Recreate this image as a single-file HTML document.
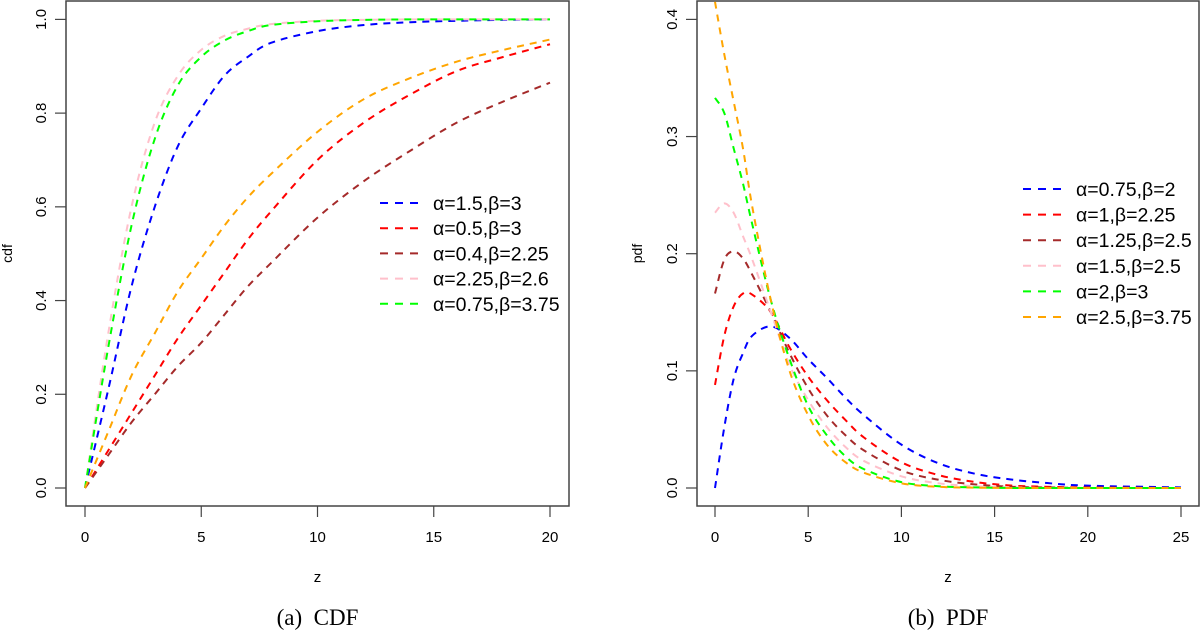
<!DOCTYPE html>
<html><head><meta charset="utf-8"><style>
body{margin:0;background:#fff;width:1200px;height:632px;overflow:hidden}
svg{display:block}
text{font-family:"Liberation Sans",Arial,sans-serif;fill:#000}
.cap{font-family:"Liberation Serif","DejaVu Serif",serif;font-size:23px;white-space:pre}
</style></head><body>
<svg id="s" width="1200" height="632"></svg>
<script>
// ---- CDF panel data ----
const cdfX=[0,1,2,3,4,5,6,7,8,10,12,14,16,18,20];
const cdfBlue=[0,0.21,0.43,0.6,0.73,0.81,0.88,0.92,0.95,0.975,0.988,0.994,0.997,0.999,1];
const cdfRed=[0,0.08,0.16,0.24,0.32,0.39,0.46,0.53,0.59,0.70,0.78,0.84,0.89,0.92,0.947];
const cdfBrown=[0,0.07,0.14,0.2,0.26,0.31,0.37,0.43,0.48,0.577,0.655,0.72,0.78,0.825,0.865];
const cdfPink=[0,0.33,0.6,0.78,0.88,0.935,0.965,0.98,0.99,0.997,0.999,1,1,1,1];
const cdfGreen=[0,0.3,0.56,0.745,0.86,0.92,0.955,0.975,0.988,0.996,0.999,1,1,1,1];
const cdfOrange=[0,0.12,0.24,0.33,0.42,0.49,0.56,0.62,0.67,0.76,0.83,0.875,0.91,0.935,0.957];
const cdfLabels=["α=1.5,β=3","α=0.5,β=3","α=0.4,β=2.25","α=2.25,β=2.6","α=0.75,β=3.75"];
const cdfXTicks=[0,5,10,15,20];
const cdfYTicks=[0,0.2,0.4,0.6,0.8,1.0];
// ---- PDF panel data ----
const pdfX=[0,0.5,1,1.5,2,3,4,5,6,7,8,10,12,14,16,18,20,25];
const pdfBlue=[0,0.052,0.093,0.115,0.13,0.138,0.128,0.11,0.094,0.077,0.062,0.037,0.021,0.012,0.007,0.004,0.002,0.0005];
const pdfRed=[0.088,0.13,0.155,0.166,0.165,0.15,0.12,0.095,0.075,0.058,0.043,0.022,0.011,0.005,0.002,0.001,0.0004,0];
const pdfBrown=[0.166,0.195,0.202,0.196,0.182,0.15,0.115,0.085,0.062,0.045,0.032,0.015,0.007,0.003,0.001,0.0005,0,0];
const pdfPink=[0.235,0.243,0.235,0.215,0.195,0.15,0.105,0.075,0.052,0.035,0.023,0.01,0.004,0.0015,0.0005,0,0,0];
const pdfGreen=[0.333,0.32,0.29,0.26,0.225,0.16,0.11,0.07,0.045,0.027,0.016,0.005,0.0015,0.0005,0,0,0,0];
const pdfOrange=[0.415,0.37,0.33,0.29,0.24,0.16,0.1,0.062,0.037,0.022,0.013,0.004,0.001,0.0003,0,0,0,0];
const pdfLabels=["α=0.75,β=2","α=1,β=2.25","α=1.25,β=2.5","α=1.5,β=2.5","α=2,β=3","α=2.5,β=3.75"];
const pdfXTicks=[0,5,10,15,20,25];
const pdfYTicks=[0,0.1,0.2,0.3,0.4];

const NS="http://www.w3.org/2000/svg";
const svg=document.getElementById('s');
function mk(tag,attrs,parent){const e=document.createElementNS(NS,tag);for(const k in attrs)e.setAttribute(k,attrs[k]);(parent||svg).appendChild(e);return e;}
function smooth(pts){let d="M"+pts[0][0].toFixed(2)+","+pts[0][1].toFixed(2);
 for(let i=0;i<pts.length-1;i++){const p0=pts[Math.max(0,i-1)],p1=pts[i],p2=pts[i+1],p3=pts[Math.min(pts.length-1,i+2)];
  const c1=[p1[0]+(p2[0]-p0[0])/6,p1[1]+(p2[1]-p0[1])/6],c2=[p2[0]-(p3[0]-p1[0])/6,p2[1]-(p3[1]-p1[1])/6];
  d+="C"+c1[0].toFixed(2)+","+c1[1].toFixed(2)+" "+c2[0].toFixed(2)+","+c2[1].toFixed(2)+" "+p2[0].toFixed(2)+","+p2[1].toFixed(2);}
 return d;}

function panel(cfg){
 const g=mk('g',{});
 
 
 const sx=v=>cfg.x0+(v-cfg.xmin)/(cfg.xmax-cfg.xmin)*(cfg.x1-cfg.x0);
 const sy=v=>cfg.y0-(v-cfg.ymin)/(cfg.ymax-cfg.ymin)*(cfg.y0-cfg.y1);
 const box=mk('rect',{x:cfg.bx0,y:cfg.by0,width:cfg.bx1-cfg.bx0,height:cfg.by1-cfg.by0,fill:'none',stroke:'#444','stroke-width':1.5},g);
 
 
 cfg.xticks.forEach(t=>{
  const l=mk('line',{x1:sx(t),x2:sx(t),y1:cfg.by1,y2:cfg.by1+11,stroke:'#444','stroke-width':1.2},g);
  
  
  const tx=mk('text',{x:sx(t),y:542,'text-anchor':'middle','font-size':15},g);tx.textContent=t;
  
  
 });
 cfg.yticks.forEach(t=>{
  const l=mk('line',{x1:cfg.bx0-11,x2:cfg.bx0,y1:sy(t),y2:sy(t),stroke:'#444','stroke-width':1.2},g);
  
  
  const tx=mk('text',{x:0,y:0,'text-anchor':'middle','font-size':15,transform:`translate(${cfg.bx0-20},${sy(t)}) rotate(-90)`},g);tx.textContent=t.toFixed(1);
  
  
 });
 const xl=mk('text',{x:(cfg.bx0+cfg.bx1)/2,y:582,'text-anchor':'middle','font-size':15},g);xl.textContent='z';
 
 
 const yl=mk('text',{x:0,y:0,'text-anchor':'middle','font-size':14,transform:`translate(${cfg.ylx},${(cfg.by0+cfg.by1)/2}) rotate(-90)`},g);yl.textContent=cfg.ylab;
 
 
 cfg.series.forEach((s,i)=>{
  const p=mk('path',{d:smooth(cfg.xs.map((x,j)=>[sx(x),sy(s.v[j])])),fill:'none',stroke:s.c,'stroke-width':2,'stroke-dasharray':'7 6'},g);
  
  
 });
 cfg.labels.forEach((lab,i)=>{
  const s=cfg.series[i];
  const y=cfg.ly0+i*cfg.ldy;
  const l=mk('line',{x1:cfg.lx,x2:cfg.lx+38,y1:y,y2:y,stroke:s.c,'stroke-width':2,'stroke-dasharray':'8 7'},g);
  
  
  const t=mk('text',{x:cfg.lx+53,y:y+7,'font-size':19.5},g);t.textContent=lab;
  
  
 });
 const c=mk('text',{x:(cfg.bx0+cfg.bx1)/2,y:625,'text-anchor':'middle',class:'cap'},g);c.textContent=cfg.cap;
 
 
}
panel({name:'cdf-panel',bx0:66,bx1:569,by0:1,by1:506,x0:85,x1:550,xmin:0,xmax:20,y0:488,y1:19.4,ymin:0,ymax:1,
 xticks:cdfXTicks,yticks:cdfYTicks,xs:cdfX,ylab:'cdf',ylx:12,cap:'(a)  CDF',labels:cdfLabels,lx:380,ly0:203,ldy:25.2,
 series:[{n:'blue',c:'#0000ff',v:cdfBlue},{n:'red',c:'#ff0000',v:cdfRed},{n:'brown',c:'#a52a2a',v:cdfBrown},{n:'pink',c:'#ffc0cb',v:cdfPink},{n:'green',c:'#00ff00',v:cdfGreen},{n:'orange',c:'#ffa500',v:cdfOrange}]});
panel({name:'pdf-panel',bx0:697,bx1:1199,by0:1,by1:506,x0:715,x1:1181,xmin:0,xmax:25,y0:488,y1:19.4,ymin:0,ymax:0.4,
 xticks:pdfXTicks,yticks:pdfYTicks,xs:pdfX,ylab:'pdf',ylx:642,cap:'(b)  PDF',labels:pdfLabels,lx:1023,ly0:189,ldy:25.6,
 series:[{n:'blue',c:'#0000ff',v:pdfBlue},{n:'red',c:'#ff0000',v:pdfRed},{n:'brown',c:'#a52a2a',v:pdfBrown},{n:'pink',c:'#ffc0cb',v:pdfPink},{n:'green',c:'#00ff00',v:pdfGreen},{n:'orange',c:'#ffa500',v:pdfOrange}]});
</script>
</body></html>
